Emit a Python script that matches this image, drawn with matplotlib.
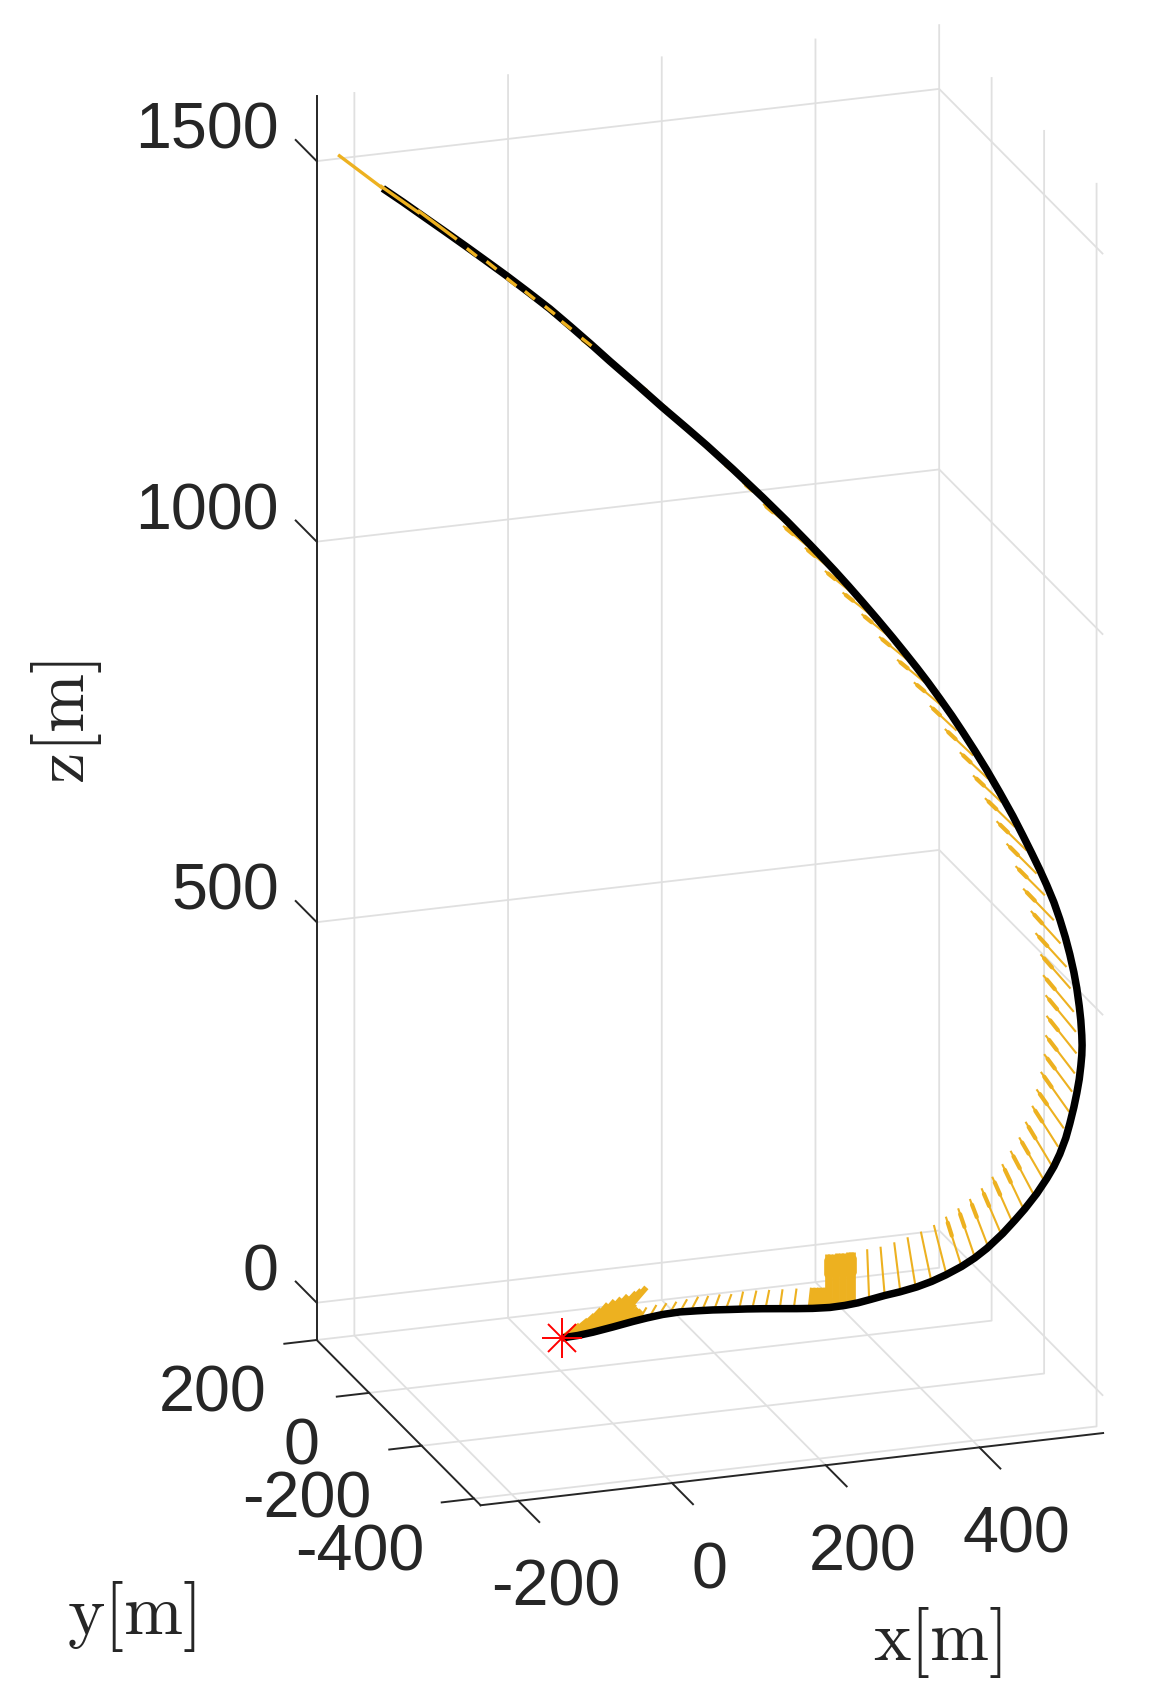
import numpy as np
import matplotlib
matplotlib.use("Agg")
import matplotlib.pyplot as plt
from matplotlib.ticker import NullFormatter
from mpl_toolkits.mplot3d import proj3d

# ---------- data (metres) ----------
x_ticks = [-200, 0, 200, 400]
y_ticks = [-400, -200, 0, 200]
z_ticks = [0, 500, 1000, 1500]
x_lim = (-249, 561)
y_lim = (-425, 200)
z_lim = (-49, 1585)

traj_x = [1.7, 22.5, 42, 68, 94, 112.3, 133, 155, 177, 198, 220, 242.4, 263, 285, 307.5, 328, 350.4, 370, 387,
          403.8, 422, 441.5, 463.7, 483, 501.4, 522, 539, 554.7, 575.5, 591, 604, 619.8, 632.8, 642, 649.7,
          657.5, 662.7, 668, 671.8, 675, 677, 678.3, 678.7, 678.3, 677, 675, 671.8, 668, 662.7, 656.9, 649.7,
          642, 632.8, 623.7, 613.3, 601.6, 588.6, 571.6, 554.7, 539, 523.5, 509.2, 493.6, 478, 463.7, 448,
          432.4, 412.9, 393.4, 375.2, 357, 340, 324.4, 294.5, 263.2, 224.2, 190.4, 164.3, 133, 99.3, 64.2,
          38.1, 12.1, -13.9, -42.5, -69.9, -95.9, -121.9, -150.5, -179.2, -205.2, -231.2]
traj_z = [-6.2, -5.4, -3.4, 0.4, 4.6, 7.1, 9.3, 10, 8.9, 7.6, 5.6, 3.7, 1.6, -0.9, -3.5, -5.6, -7, -6.6, -5.2,
          -2.6, 0.4, 2.8, 6.7, 11.7, 18.1, 26.8, 36, 46.6, 63.9, 79.1, 92.6, 111.2, 129.4, 144.1, 159.6,
          179.7, 198, 219, 237, 255, 271.8, 286.1, 299.2, 312.3, 332.1, 350.8, 374.8, 396.2, 420.5, 443.4, 468,
          491.2, 514.6, 535.9, 558.8, 583.8, 610.9, 643.7, 675.1, 702.6, 728.7, 752.1, 776.2, 799.7, 820.3,
          842.1, 863.4, 889.3, 914.5, 937.6, 960.1, 980.4, 998.7, 1033, 1067.6, 1109.4, 1144.4, 1170.3, 1200.9,
          1235, 1269.9, 1296.6, 1322.5, 1347.9, 1373.6, 1397.7, 1419.8, 1441.8, 1465.6, 1489.2, 1510.7, 1531.5]
plane_y = 0.0
start_point = (2.0, 0.0, -6.7)

# thrust arrows along the climb
mid_x = [401.6, 422, 442.4, 462.3, 482.8, 502.3, 521.8, 539.1, 556.4, 573.8, 589, 604.2, 617.2, 628.9,
         638.9, 647.5, 654.9, 661.8, 665.7, 669.2, 671.4, 670.6, 667.9, 663.6, 658.4, 650.6, 641.9,
         630.2, 619.4, 606.4, 591.3, 573.8, 556.4, 536.9, 515.3, 495.8, 474, 450.2, 426.3, 402.5,
         378.7, 352.4, 324.1, 297.5, 271, 245, 219, 195.6, 167, 139.2, 113.2, 84.6, 57.6]
mid_z = [-1.7, -1.2, 0.9, 5.2, 10.6, 18, 26.6, 36.9, 48.8, 62.2, 74.8, 89.1, 107.3, 127.8, 146.3, 169.4,
         192.7, 213.6, 239.5, 263.1, 289.1, 317.6, 344.2, 375.3, 404.3, 436, 467.6, 501.7, 531.5, 563.5,
         596, 630.8, 663.5, 696.3, 731.6, 766.8, 799.9, 833.3, 866.8, 898, 929.1, 962.3, 994.2, 1026.1,
         1058.5, 1087.8, 1116.7, 1141.7, 1171.3, 1199.5, 1226.1, 1253.8, 1277.9]
mid_u = [-2.6, -5.6, -8.2, -10.8, -13.9, -16.5, -20.4, -21.7, -23.8, -26, -27.3, -29.5, -31.6, -32.1,
         -33.8, -33.8, -35.5, -36.8, -36.4, -38.1, -39, -39.4, -39.9, -39, -40.3, -38.6, -39.9, -38.1,
         -39, -39, -39, -37, -36.8, -36.8, -34.7, -36, -36, -35.7, -34.6, -35.5, -34.7, -34.5, -34.5,
         -33.8, -33.8, -33.8, -33.8, -33.8, -33.8, -33.8, -33.8, -33.4, -32.5]
mid_w = [65.5, 66.3, 67.9, 68.2, 68.2, 67.5, 68, 66.8, 65.4, 64.3, 65.2, 66, 64, 59.8, 60.8, 57.7, 55.4,
         56.8, 53.7, 54.7, 54.1, 52.8, 52.9, 49.6, 49.3, 47.4, 46.3, 42.9, 44, 43, 42.6, 39.4, 39.2, 39.3,
         36.9, 34.8, 34, 33.5, 32.5, 32.5, 32.5, 32.9, 32.9, 32.8, 31.5, 31.5, 30.2, 29.3, 29.3, 28.9,
         28.9, 28.6, 27.2]

# short arrows on the flat stretch
low_x = [101.9, 114, 126.2, 140, 153.9, 168.3, 183.5, 199.5, 214.7, 232.4, 249.3, 266.8, 285.4, 303.6]
low_z = [4.7, 5.2, 6.4, 6.4, 7.5, 7.5, 7.1, 6.4, 5.6, 4.5, 2.5, 1.8, 0, -2.1]
low_u = [10, 10.8, 11.7, 10.8, 10.8, 10.8, 8.7, 7.8, 7.8, 5.2, 5.6, 4.8, 3.5, 3.5]
low_w = [16.3, 17.5, 17.1, 17.5, 18, 19.7, 19.6, 20.5, 20, 22.6, 23.9, 23.5, 24.1, 25]

# dense cluster around x = 350 m
block_x = [325, 329.6, 334.2, 338.7, 342.6, 346.5, 351.1, 355.6, 360.2, 364.7, 369.3, 373.8, 378.4, 381]
block_z = [-2, -2.5, -3, -3.5, -4, -4.5, -5, -5.5, -6, -6.5, -7, -7.4, -8, -8]
block_u = [2.6, 2.6, 2.6, 2.6, 2.6, 0, 0, 0, 0, 0, 0, 0, 0, 0]
block_w = [23.5, 23.5, 23.5, 23.5, 23.5, 68.2, 68.5, 68.8, 69.1, 69.4, 69.8, 70.1, 70.5, 70.8]

# dense cluster at the start point
start_x = [3.4, 9.9, 16.4, 22.9, 29.4, 35.9, 42.4, 48.9, 55.4, 61.9, 68.4, 75, 81.5, 88, 94.5]
start_z = [-5.5, -5.5, -5, -3.8, -3.3, -2.4, -1.4, -0.4, 0.3, 1.2, 1.7, 2.6, 3.1, 4.3, 5.2]
start_u = [21.7, 26, 28.2, 30.3, 32.5, 34.7, 36.8, 39, 43.3, 43.3, 43.3, 21.7, 19.5, 17.3, 10.8]
start_w = [13.6, 18.9, 23.9, 29.3, 34.6, 37, 38.1, 39.6, 41.7, 43.4, 45.7, 24.7, 17.8, 13.4, 12.2]

# arrows visible over the trajectory near its end
top_x = [-231.2, -183, -135, -108.9, -83.3, -57.3, -33.4, -7.4, 14.3, 40.3]
top_z = [1531.5, 1493, 1453.3, 1428, 1407.9, 1382.9, 1362.7, 1340, 1317.7, 1292.8]
top_u = [-58.2, -52, -50.7, -13, -13, -13, -13, -13, -13, -13]
top_w = [51, 42.8, 44, 12, 12, 12, 12, 12, 12, 12]

# ---------- style ----------
W, H = 1155, 1705
ORANGE = "#EDB120"
DARK = "#262626"
GRID = "#e0e0e0"
TICK_FONT = "Liberation Sans"
TICK_SIZE = 46.5
LABEL_FONT = "cmr10"
LABEL_SIZE = 51

fig = plt.figure(figsize=(W / 100, H / 100), dpi=100)
fig.patch.set_facecolor("white")
ax = fig.add_axes([0, 0, 1, 1], projection="3d", computed_zorder=False)
ax.set_proj_type("ortho")
ax.view_init(elev=20.0, azim=-108.74)
ax.set_xlim(*x_lim, view_margin=0)
ax.set_ylim(*y_lim, view_margin=0)
ax.set_zlim(*z_lim, view_margin=0)
ax.set_box_aspect((x_lim[1] - x_lim[0], (y_lim[1] - y_lim[0]) * 1.006, (z_lim[1] - z_lim[0]) * 0.998))
ax.patch.set_visible(False)

ax.set_xticks(x_ticks)
ax.set_yticks(y_ticks)
ax.set_zticks(z_ticks)

factors = {"x": -1.6, "y": -0.65, "z": 0.0}
for name, axis in (("x", ax.xaxis), ("y", ax.yaxis), ("z", ax.zaxis)):
    axis.set_major_formatter(NullFormatter())
    axis.pane.set_facecolor((1, 1, 1, 0))
    axis.pane.set_edgecolor((1, 1, 1, 0))
    axis._axinfo["grid"].update(color=GRID, linewidth=1.3)
    axis.line.set_color(DARK)
    axis.line.set_linewidth(1.4)
    axis._axinfo["tick"].update(inward_factor=0.0, outward_factor=factors[name])
    width = 0.0 if name == "z" else 1.4
    axis._axinfo["tick"]["linewidth"] = {True: width, False: width}
    axis.set_tick_params(color=DARK)
ax.zaxis.line.set_visible(False)

# the vertical axis sits on the back-left edge, its ticks run along +y
ax.plot([x_lim[0], x_lim[0]], [y_lim[1], y_lim[1]], z_lim, color=DARK, linewidth=1.4, zorder=1.5)
for v in z_ticks:
    ax.plot([x_lim[0], x_lim[0]], [y_lim[1], y_lim[1] + 80], [v, v], color=DARK, linewidth=1.4, zorder=1.5)


# fit the box to the reference corners (pixels, y down)
def to_px(px, py, pz):
    xs, ys, _ = proj3d.proj_transform(px, py, pz, ax.get_proj())
    return ax.transData.transform((xs, ys))


target_a = np.array([316.7, H - 1340.0])
target_b = np.array([1103.0, H - 1434.0])
L, B, S = 0.0, 0.0, 1500.0
for _ in range(4):
    ax.set_position([L / W, B / H, S / W, S / H])
    ax.apply_aspect()
    a = to_px(x_lim[0], y_lim[1], z_lim[0])
    b = to_px(x_lim[1], y_lim[0], z_lim[0])
    S *= np.linalg.norm(target_b - target_a) / np.linalg.norm(b - a)
    ax.set_position([L / W, B / H, S / W, S / H])
    ax.apply_aspect()
    a = to_px(x_lim[0], y_lim[1], z_lim[0])
    L += target_a[0] - a[0]
    B += target_a[1] - a[1]
ax.set_position([L / W, B / H, S / W, S / H])
ax.apply_aspect()

# ---------- marks ----------
def arrows(xs, zs, us, ws, lw, zorder, head=None):
    xs, zs, us, ws = map(np.asarray, (xs, zs, us, ws))
    ys = np.full_like(xs, plane_y, dtype=float)
    ax.quiver(xs, ys, zs, us, ys * 0, ws, arrow_length_ratio=0, colors=ORANGE,
              linewidths=lw, zorder=zorder)
    if head is not None:
        ax.quiver(xs + 0.62 * us, ys, zs + 0.62 * ws, 0.26 * us, ys * 0, 0.26 * ws,
                  arrow_length_ratio=0, colors=ORANGE, linewidths=head, capstyle="round",
                  zorder=zorder)


arrows(mid_x[:6], mid_z[:6], mid_u[:6], mid_w[:6], 1.5, 2)
arrows(mid_x[6:], mid_z[6:], mid_u[6:], mid_w[6:], 1.5, 2, head=3.0)
arrows(low_x, low_z, low_u, low_w, 1.5, 2)
arrows(block_x[:5], block_z[:5], block_u[:5], block_w[:5], 3.4, 2)
arrows(block_x[5:], block_z[5:], block_u[5:], block_w[5:], 3.4, 2, head=4.8)
arrows(start_x, start_z, start_u, start_w, 4.0, 2)

ax.plot(traj_x, [plane_y] * len(traj_x), traj_z, color="black", linewidth=5.4,
        solid_capstyle="butt", solid_joinstyle="round", zorder=3)

arrows(top_x, top_z, top_u, top_w, 2.4, 4)

ax.plot([start_point[0]], [start_point[1]], [start_point[2]], marker="+", markersize=28.8,
        markeredgewidth=1.4, color="red", linestyle="none", zorder=5)
ax.plot([start_point[0]], [start_point[1]], [start_point[2]], marker="x", markersize=20,
        markeredgewidth=1.4, color="red", linestyle="none", zorder=5)


# ---------- tick labels and axis labels ----------
def tick_label(value, px, py, pz, dx, dy, ha):
    xs, ys, _ = proj3d.proj_transform(px, py, pz, ax.get_proj())
    ax.annotate(str(value), xy=(xs, ys), xycoords="data", xytext=(dx, dy), textcoords="offset pixels",
                ha=ha, va="center", fontsize=TICK_SIZE, family=TICK_FONT, color=DARK,
                annotation_clip=False)


for v in x_ticks:
    tick_label(v, v, y_lim[0], z_lim[0], 37, -88, "center")
for v in y_ticks:
    tick_label(v, x_lim[0], v, z_lim[0], -50, -55, "right")
for v in z_ticks:
    tick_label(v, x_lim[0], y_lim[1], v, -38, 29.5, "right")

fig.text(941 / W, 1 - 1642 / H, "x[m]", ha="center", va="center", fontsize=LABEL_SIZE,
         family=LABEL_FONT, color=DARK)
fig.text(135 / W, 1 - 1617 / H, "y[m]", ha="center", va="center", fontsize=LABEL_SIZE,
         family=LABEL_FONT, color=DARK)
fig.text(65 / W, 1 - 716 / H, "z[m]", ha="center", va="center", rotation=90, fontsize=LABEL_SIZE,
         family=LABEL_FONT, color=DARK)

fig.savefig("out.png", dpi=100, facecolor="white")
